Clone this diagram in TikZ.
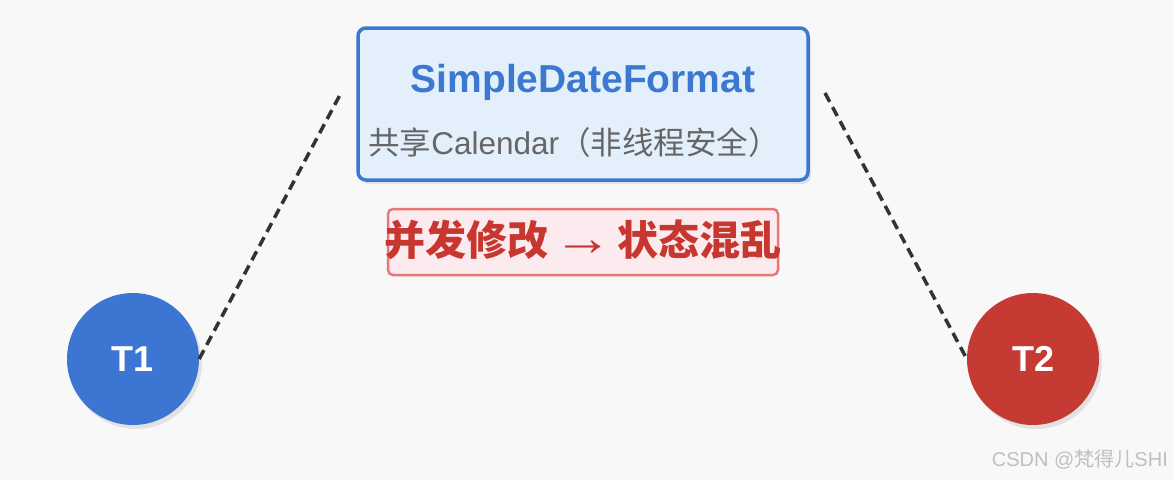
\documentclass[tikz,border=0pt]{standalone}
\usepackage{fontspec}
\setmainfont{Liberation Sans}
\newfontfamily\cjk{Noto Sans CJK SC}
\newfontfamily\arrowfont{Liberation Serif}
\usetikzlibrary{shadows}
\definecolor{bg}{HTML}{F8F8F8}
\definecolor{boxblue}{HTML}{3C78D0}
\definecolor{boxfill}{HTML}{E3F0FC}
\definecolor{subgray}{HTML}{666666}
\definecolor{warnfill}{HTML}{FCEBEE}
\definecolor{warnedge}{HTML}{E87878}
\definecolor{warntext}{HTML}{C8372F}
\definecolor{tblue}{HTML}{3C76D2}
\definecolor{tred}{HTML}{C53A32}
\definecolor{dashc}{HTML}{333333}
\begin{document}
\begin{tikzpicture}[x=1pt,y=-1pt,
  mainbox/.style={draw=boxblue,line width=3.5pt,fill=boxfill,rounded corners=8pt,
    minimum width=450pt,minimum height=152pt,inner sep=0pt,
    drop shadow={opacity=0.18,shadow xshift=3pt,shadow yshift=-4pt}},
  warnbox/.style={draw=warnedge,line width=2.5pt,fill=warnfill,rounded corners=5pt,
    minimum width=390pt,minimum height=66pt,inner sep=0pt},
  thread/.style={circle,minimum size=132pt,inner sep=0pt,text=white,
    font=\fontsize{36}{40}\selectfont\bfseries,
    drop shadow={opacity=0.18,shadow xshift=3pt,shadow yshift=-4pt}},
  link/.style={draw=dashc,line width=3.5pt,dash pattern=on 10pt off 6pt}]
\fill[bg] (0,0) rectangle (1174,480);
\useasboundingbox (0,0) rectangle (1174,480);
\node[mainbox] (sdf) at (583,104) {};
\node[text=boxblue,font=\fontsize{39}{42}\selectfont\bfseries,inner sep=0pt] (title) at (583,82) {SimpleDateFormat};
\node[text=subgray,font=\fontsize{31.5}{34}\selectfont,inner sep=0pt] (sub) at (574,143) {{\cjk 共享}Calendar{\cjk （非线程安全）}};
\node[warnbox] (warn) at (583,242) {};
\node[text=warntext,font=\fontsize{41}{44}\selectfont\bfseries,inner sep=0pt] (warntxt) at (583,240) {{\cjk\bfseries 并发修改}\hspace{5pt}{\arrowfont\mdseries\scalebox{1.45}[1.25]{→}}\hspace{4pt}{\cjk\bfseries 状态混乱}};
\node[thread,fill=tblue] (t1) at (133,359) {T1};
\node[thread,fill=tred] (t2) at (1033,359) {T2};
\coordinate (a1) at (341,93);
\coordinate (a2) at (825,93);
\draw[link] (t1.east) -- (a1);
\draw[link] (a2) -- (t2.west);
\node[text=black!25,font=\fontsize{20}{22}\selectfont,anchor=east,inner sep=0pt] (wm) at (1168,459) {CSDN @{\cjk 梵得儿}SHI};
\end{tikzpicture}
\end{document}
